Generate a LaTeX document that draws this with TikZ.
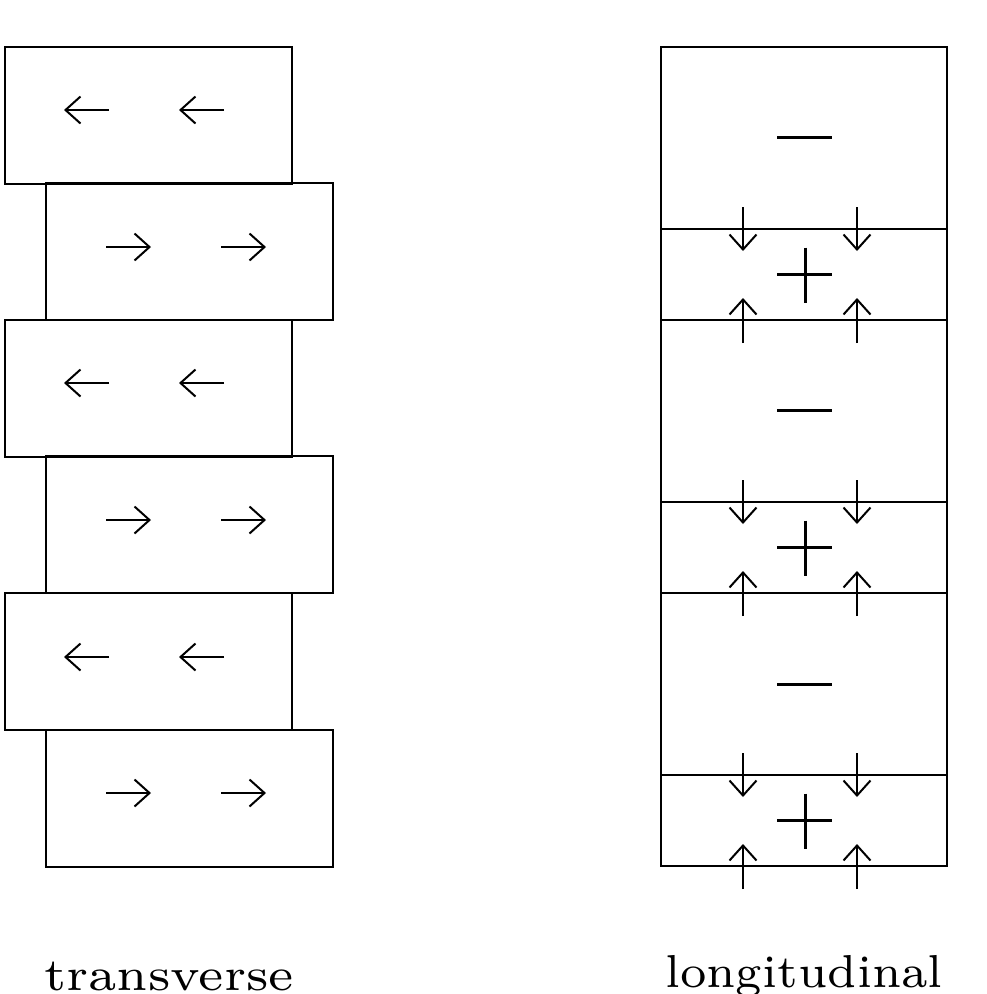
\documentclass[tikz,border=0pt]{standalone}
\usetikzlibrary{arrows.meta}
\begin{document}
\begin{tikzpicture}[x=1pt,y=-1pt,
  boxline/.style={line width=2pt},
  arr/.style={line width=2pt,-{Straight Barb[length=15pt,width=27pt,line width=2pt]}},
  sign/.style={line width=3pt},
  lbl/.style={anchor=base,inner sep=0pt}]
\useasboundingbox (0,0) rectangle (986,994);
% transverse column
\foreach \t/\xl in {47/5,183/46,320/5,456/46,593/5,730/46}{
  \pgfmathsetmacro{\b}{\t+136.5}
  \draw[boxline] (\xl,\t) rectangle ({\xl+287},\b);
}
\foreach \y in {110,383,657}{
  \draw[arr] (109,\y) -- (64,\y);
  \draw[arr] (224,\y) -- (179,\y);
}
\foreach \y in {247,520,793}{
  \draw[arr] (106,\y) -- (151,\y);
  \draw[arr] (221,\y) -- (266,\y);
}
% longitudinal column
\draw[boxline] (661,47) rectangle (947,866);
\foreach \y in {229,320,502,593,775}{
  \draw[boxline] (661,\y) -- (947,\y);
}
\foreach \y in {137,410,684}{
  \draw[sign] (777,\y) -- (832,\y);
}
\foreach \l/\u in {229/320,502/593,775/866}{
  \pgfmathsetmacro{\c}{(\l+\u)/2}
  \draw[sign] (777,\c) -- (832,\c);
  \draw[sign] (805,{\c-27}) -- (805,{\c+28});
  \foreach \x in {743,857}{
    \draw[arr] (\x,{\l-22}) -- (\x,{\l+22});
    \draw[arr] (\x,{\u+23}) -- (\x,{\u-22});
  }
}
\node[lbl] (t) at (169,990) {\scalebox{7.1}[6.6]{\fontsize{7}{8}\selectfont transverse}};
\node[lbl] (l) at (804,987) {\scalebox{6.65}[6.6]{\fontsize{7}{8}\selectfont longitudinal}};
\end{tikzpicture}
\end{document}
